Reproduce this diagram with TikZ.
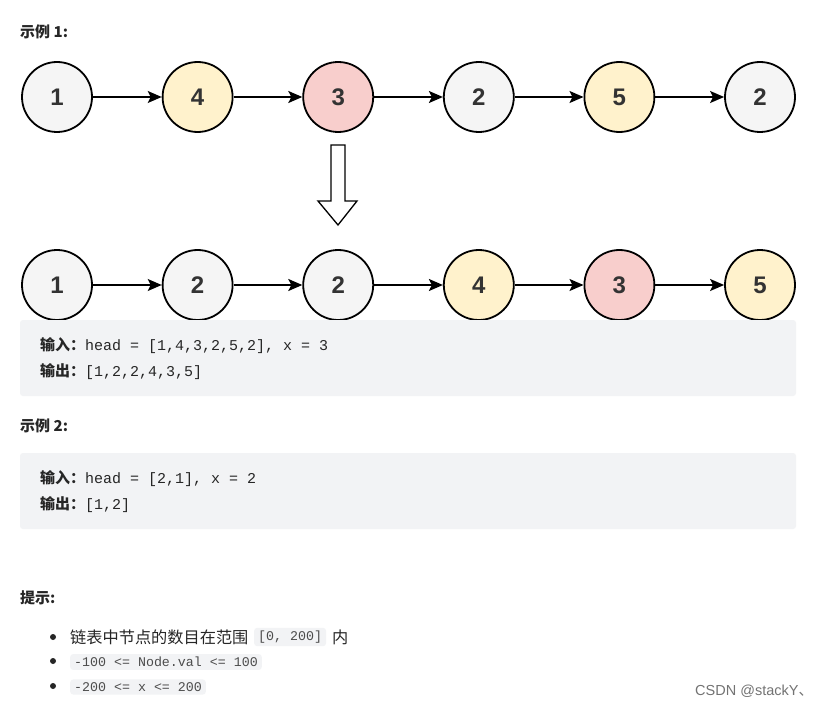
\documentclass[tikz,border=0pt]{standalone}
\usepackage{fontspec}
\setmainfont{Liberation Sans}
\setmonofont{Liberation Mono}
\newfontfamily\cjk{Noto Sans CJK SC}
\usetikzlibrary{arrows.meta}
\definecolor{cgray}{HTML}{F5F5F5}
\definecolor{cyellow}{HTML}{FFF2CC}
\definecolor{cred}{HTML}{F8CECC}
\definecolor{codebg}{HTML}{F2F3F5}
\definecolor{inlinebg}{HTML}{F2F3F5}
\definecolor{txt}{HTML}{262626}
\definecolor{numc}{HTML}{333333}
\tikzset{
  lnode/.style={circle,draw=black,line width=1.8pt,minimum size=70pt,inner sep=0pt,
    font=\fontsize{24}{24}\selectfont\bfseries,text=numc},
  ng/.style={lnode,fill=cgray},
  ny/.style={lnode,fill=cyellow},
  nr/.style={lnode,fill=cred},
  link/.style={line width=1.6pt,-{Stealth[length=14pt,width=12pt,inset=3pt]}},
  head/.style={anchor=west,inner sep=0pt,font=\cjk\fontsize{15}{18}\selectfont\bfseries,text=txt},
  codeline/.style={anchor=west,inner sep=0pt,text=txt,font=\fontsize{15}{18}\selectfont},
  codebox/.style={fill=codebg,draw=none,rounded corners=3pt},
  chip/.style={fill=inlinebg,rounded corners=3pt,anchor=west,inner xsep=4pt,inner ysep=3pt,
    text=black!70,font=\ttfamily\fontsize{13.3}{15}\selectfont},
  bullet/.style={circle,fill=txt,inner sep=0pt,minimum size=6pt},
}
\begin{document}
\begin{tikzpicture}[x=1pt,y=-1pt]
\useasboundingbox (0,0) rectangle (814,706);
\fill[white] (0,0) rectangle (814,706);

\node[head] (h1) at (20,32) {示例 1:};

% row 1
\node[ng] (a1) at (57,97) {1};
\node[ny] (a2) at (197.6,97) {4};
\node[nr] (a3) at (338.2,97) {3};
\node[ng] (a4) at (478.8,97) {2};
\node[ny] (a5) at (619.4,97) {5};
\node[ng] (a6) at (760,97) {2};
\foreach \i/\j in {a1/a2,a2/a3,a3/a4,a4/a5,a5/a6} \draw[link] (\i) -- (\j);

% hollow arrow
\draw[line width=1.3pt,line join=miter,fill=white] (331,145) -- (345,145) -- (345,201) -- (357,201) -- (338,225) -- (318,201) -- (331,201) -- cycle;

% row 2
\node[ng] (b1) at (57,285) {1};
\node[ng] (b2) at (197.6,285) {2};
\node[ng] (b3) at (338.2,285) {2};
\node[ny] (b4) at (478.8,285) {4};
\node[nr] (b5) at (619.4,285) {3};
\node[ny] (b6) at (760,285) {5};
\foreach \i/\j in {b1/b2,b2/b3,b3/b4,b4/b5,b5/b6} \draw[link] (\i) -- (\j);

% code box 1
\fill[codebox] (20,320) rectangle (796,396);
\node[codeline] (c1) at (40,346) {{\cjk\bfseries 输入：}\ttfamily head = [1,4,3,2,5,2], x = 3};
\node[codeline] (c2) at (40,372) {{\cjk\bfseries 输出：}\ttfamily [1,2,2,4,3,5]};

\node[head] (h2) at (20,426) {示例 2:};

% code box 2
\fill[codebox] (20,453) rectangle (796,529);
\node[codeline] (d1) at (40,479) {{\cjk\bfseries 输入：}\ttfamily head = [2,1], x = 2};
\node[codeline] (d2) at (40,505) {{\cjk\bfseries 输出：}\ttfamily [1,2]};

\node[head] (h3) at (20,598) {提示:};

% bullets
\node[bullet] (p1) at (53,637) {};
\node[bullet] (p2) at (53,661) {};
\node[bullet] (p3) at (53,686) {};
\node[anchor=west,inner sep=0pt,text=txt,font=\cjk\fontsize{16.2}{18}\selectfont] (t1) at (70,637) {链表中节点的数目在范围};
\node[chip] (k1) at (254,637) {[0, 200]};
\node[anchor=west,inner sep=0pt,text=txt,font=\cjk\fontsize{16.2}{18}\selectfont] (t1b) at (332,637) {内};
\node[chip] (k2) at (70,662) {-100 <= Node.val <= 100};
\node[chip] (k3) at (70,687) {-200 <= x <= 200};

\node[anchor=west,inner sep=0pt,text=black!55,font=\fontsize{14.5}{16}\selectfont] (wm) at (695,691) {CSDN @stackY{\cjk 、}};
\end{tikzpicture}
\end{document}
